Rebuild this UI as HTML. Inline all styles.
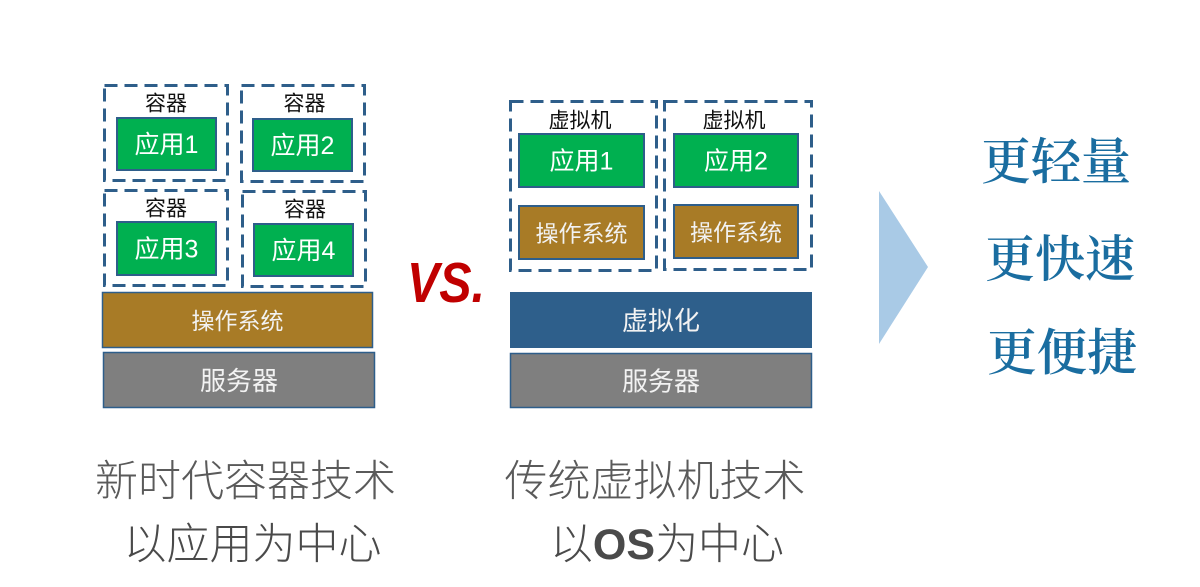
<!DOCTYPE html>
<html>
<head>
<meta charset="utf-8">
<style>
html,body{margin:0;padding:0;background:#fff;}
body{width:1200px;height:587px;overflow:hidden;}
svg{display:block;}
.cjk{font-family:"Liberation Sans","Noto Sans CJK SC","WenQuanYi Zen Hei",sans-serif;}
.serif{font-family:"Liberation Serif","Noto Serif CJK SC",serif;}
</style>
</head>
<body>
<svg width="1200" height="587" viewBox="0 0 1200 587" xmlns="http://www.w3.org/2000/svg">
  <rect width="1200" height="587" fill="#ffffff"/>

  <!-- LEFT: container dashed boxes -->
  <g fill="none" stroke="#2E5E8A" stroke-width="3" stroke-dasharray="13 7">
    <rect x="104.5" y="85.5" width="123" height="95"/>
    <rect x="241.5" y="85.5" width="123" height="96"/>
    <rect x="104.5" y="190.5" width="123" height="95"/>
    <rect x="242.5" y="191.5" width="123" height="95"/>
  </g>
  <!-- green apps -->
  <g fill="#00B050" stroke="#2E5E8A" stroke-width="2">
    <rect x="117" y="118" width="99" height="52"/>
    <rect x="253" y="119" width="99" height="52"/>
    <rect x="117" y="222" width="99" height="53"/>
    <rect x="254" y="224" width="99" height="52"/>
  </g>
  <!-- OS + server -->
  <rect x="102.5" y="292.5" width="270" height="55" fill="#A87B26" stroke="#2E5E8A" stroke-width="1.5"/>
  <rect x="103.5" y="352.5" width="271" height="55" fill="#7F7F7F" stroke="#2E5E8A" stroke-width="1.5"/>

  <g class="cjk" text-anchor="middle" dominant-baseline="central">
    <text x="166" y="104" font-size="21" fill="#111">容器</text>
    <text x="304.5" y="104" font-size="21" fill="#111">容器</text>
    <text x="166" y="209" font-size="21" fill="#111">容器</text>
    <text x="305" y="210" font-size="21" fill="#111">容器</text>
    <text x="166.5" y="145" font-size="25" fill="#fff">应用1</text>
    <text x="302.5" y="146" font-size="25" fill="#fff">应用2</text>
    <text x="166.5" y="249.5" font-size="25" fill="#fff">应用3</text>
    <text x="303.5" y="251" font-size="25" fill="#fff">应用4</text>
    <text x="237.5" y="321" font-size="23" fill="#F2F2F2">操作系统</text>
    <text x="239" y="381" font-size="26" fill="#F2F2F2">服务器</text>
  </g>

  <!-- VS. -->
  <text x="407" y="302" font-family="'Liberation Sans',sans-serif" font-size="57" font-weight="bold" font-style="italic" fill="#C00000" textLength="78" lengthAdjust="spacingAndGlyphs">VS.</text>

  <!-- RIGHT: VM dashed boxes -->
  <g fill="none" stroke="#2E5E8A" stroke-width="3" stroke-dasharray="13 7">
    <rect x="510.5" y="101.5" width="146" height="169"/>
    <rect x="664.5" y="101.5" width="147" height="168"/>
  </g>
  <g stroke="#2E5E8A" stroke-width="2">
    <rect x="519" y="134" width="125" height="53" fill="#00B050"/>
    <rect x="674" y="134" width="124" height="53" fill="#00B050"/>
    <rect x="519" y="206" width="125" height="53" fill="#A87B26"/>
    <rect x="674" y="205" width="124" height="53" fill="#A87B26"/>
  </g>
  <rect x="510" y="292" width="302" height="56" fill="#2E5F8B"/>
  <rect x="510.5" y="353.5" width="301" height="54" fill="#7F7F7F" stroke="#2E5E8A" stroke-width="1.5"/>

  <g class="cjk" text-anchor="middle" dominant-baseline="central">
    <text x="580" y="121" font-size="21" fill="#111">虚拟机</text>
    <text x="734" y="121" font-size="21" fill="#111">虚拟机</text>
    <text x="581.5" y="161.5" font-size="25" fill="#fff">应用1</text>
    <text x="736" y="161.5" font-size="25" fill="#fff">应用2</text>
    <text x="581.5" y="233.5" font-size="23" fill="#F2F2F2">操作系统</text>
    <text x="736" y="232.5" font-size="23" fill="#F2F2F2">操作系统</text>
    <text x="661" y="321" font-size="26" fill="#F2F2F2">虚拟化</text>
    <text x="661" y="381.5" font-size="26" fill="#F2F2F2">服务器</text>
  </g>

  <!-- triangle -->
  <polygon points="879,191 928,267 879,344" fill="#A9CAE6"/>

  <!-- blue words -->
  <g class="serif" font-size="50" font-weight="600" fill="#1A6DA0" dominant-baseline="central">
    <text x="981" y="162">更轻量</text>
    <text x="985" y="259.5">更快速</text>
    <text x="987" y="353">更便捷</text>
  </g>

  <!-- bottom captions -->
  <g class="cjk" text-anchor="middle" dominant-baseline="central" font-size="43">
    <text x="245.5" y="482" font-weight="300" fill="#5a5a5a">新时代容器技术</text>
    <text x="252.5" y="545" font-weight="300" fill="#4a4a4a">以应用为中心</text>
    <text x="655" y="482" font-weight="300" fill="#5a5a5a">传统虚拟机技术</text>
    <text x="667" y="545" font-weight="300" fill="#4a4a4a">以<tspan font-weight="bold">OS</tspan>为中心</text>
  </g>
</svg>
</body>
</html>
